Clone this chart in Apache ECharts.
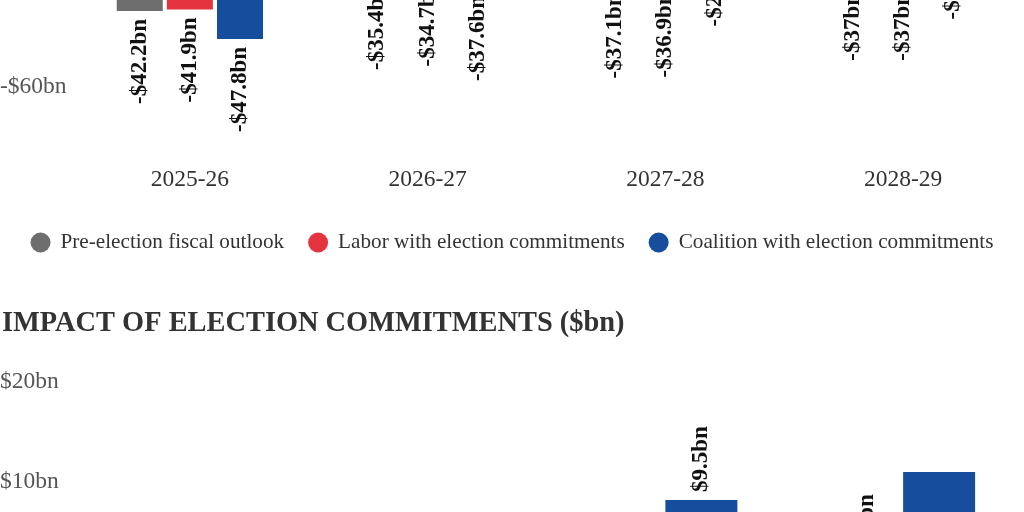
<!DOCTYPE html>
<html>
<head>
<meta charset="utf-8">
<script src="https://cdn.jsdelivr.net/npm/echarts@6/dist/echarts.min.js"></script>
<style>
  html, body { margin: 0; padding: 0; background: #fff; overflow: hidden; }
  #wrap { position: relative; width: 1024px; height: 512px; overflow: hidden; }
  /* the chart is taller than the window; only this slice of it shows */
  #chart { position: absolute; left: 0; top: -300px; width: 1024px; height: 1100px; }
</style>
</head>
<body>
<div id="wrap"><div id="chart"></div></div>
<script>
// 财年
var years = ['2025-26', '2026-27', '2027-28', '2028-29'];
var seriesNames = ['Pre-election fiscal outlook', 'Labor with election commitments', 'Coalition with election commitments'];

// 预算余额 ($bn)
var preElection = [-42.2, -35.4, -37.1, -37.0];
var laborBalance = [-41.9, -34.7, -36.9, -37.0];
var coalitionBalance = [-47.8, -37.6, -26.7, -25.3];

// 选举承诺的影响 ($bn)
var laborImpact = [0.3, 0.7, 0.2, 2.7];
var coalitionImpact = [-5.6, -2.2, 9.5, 12.3];

var impactTitle = 'IMPACT OF ELECTION COMMITMENTS ($bn)';

var colors = ['#6e6e6e', '#e3343f', '#164e9d'];
var serif = '"Liberation Serif", "Times New Roman", serif';

function money(v) {
    return (v < 0 ? '-' : '') + '$' + Math.round(Math.abs(v) * 10) / 10 + 'bn';
}

var barLabelTop = {
    show: true,
    position: 'bottom',
    rotate: 90,
    align: 'right',
    verticalAlign: 'middle',
    distance: 8,
    color: '#111',
    fontFamily: serif,
    fontWeight: 'bold',
    fontSize: 23,
    formatter: function (p) { return money(p.value); }
};
var barLabelBottom = {
    show: true,
    position: 'top',
    rotate: 90,
    align: 'left',
    verticalAlign: 'middle',
    distance: 8,
    color: '#111',
    fontFamily: serif,
    fontWeight: 'bold',
    fontSize: 23,
    formatter: function (p) { return money(p.value); }
};

function yAxis(gridIndex, min, max, interval) {
    return {
        type: 'value',
        gridIndex: gridIndex,
        min: min,
        max: max,
        interval: interval,
        axisLine: { show: false },
        axisTick: { show: false },
        splitLine: { show: false },
        axisLabel: {
            align: 'left',
            verticalAlign: 'bottom',
            margin: 71,
            padding: [0, 0, 1, 0],
            color: '#555',
            fontFamily: serif,
            fontSize: 23.5,
            formatter: money
        }
    };
}

function xAxis(gridIndex) {
    return {
        type: 'category',
        gridIndex: gridIndex,
        data: years,
        axisLine: { show: false },
        axisTick: { show: false },
        axisLabel: {
            margin: 68,
            color: '#333',
            fontFamily: serif,
            fontSize: 23.5
        }
    };
}

var chart = echarts.init(document.getElementById('chart'));

var option = {
    animation: false,
    color: colors,
    title: {
        text: impactTitle,
        left: 2,
        top: 610,
        padding: 0,
        textStyle: {
            color: '#333',
            fontFamily: serif,
            fontWeight: 'bold',
            fontSize: 28.4
        }
    },
    legend: {
        data: seriesNames,
        top: 527,
        left: 'center',
        icon: 'circle',
        itemWidth: 20,
        itemHeight: 20,
        itemGap: 24,
        textStyle: {
            color: '#333',
            fontFamily: serif,
            fontSize: 21.2,
            padding: [0, 0, 0, 5]
        }
    },
    grid: [
        { left: 71, right: 2, top: 100, height: 300, outerBoundsMode: 'none' },
        { left: 71, right: 2, top: 695, height: 300, outerBoundsMode: 'none' }
    ],
    xAxis: [xAxis(0), xAxis(1)],
    yAxis: [yAxis(0, -60, 0, 20), yAxis(1, -10, 20, 10)],
    series: [
        {
            name: seriesNames[0], type: 'bar', xAxisIndex: 0, yAxisIndex: 0,
            barWidth: 46, barGap: '9%', data: preElection, label: barLabelTop
        },
        {
            name: seriesNames[1], type: 'bar', xAxisIndex: 0, yAxisIndex: 0,
            barWidth: 46, barGap: '9%', data: laborBalance, label: barLabelTop
        },
        {
            name: seriesNames[2], type: 'bar', xAxisIndex: 0, yAxisIndex: 0,
            barWidth: 46, barGap: '9%', data: coalitionBalance, label: barLabelTop
        },
        {
            name: seriesNames[1], type: 'bar', xAxisIndex: 1, yAxisIndex: 1,
            barWidth: 72, barGap: '0%', data: laborImpact, label: barLabelBottom
        },
        {
            name: seriesNames[2], type: 'bar', xAxisIndex: 1, yAxisIndex: 1,
            barWidth: 72, barGap: '0%',
            // 最后一根柱子在原图上没有标签
            data: coalitionImpact.map(function (v, i) {
                return i === coalitionImpact.length - 1 ? { value: v, label: { show: false } } : v;
            }),
            label: barLabelBottom
        }
    ]
};
chart.setOption(option);
</script>
</body>
</html>
